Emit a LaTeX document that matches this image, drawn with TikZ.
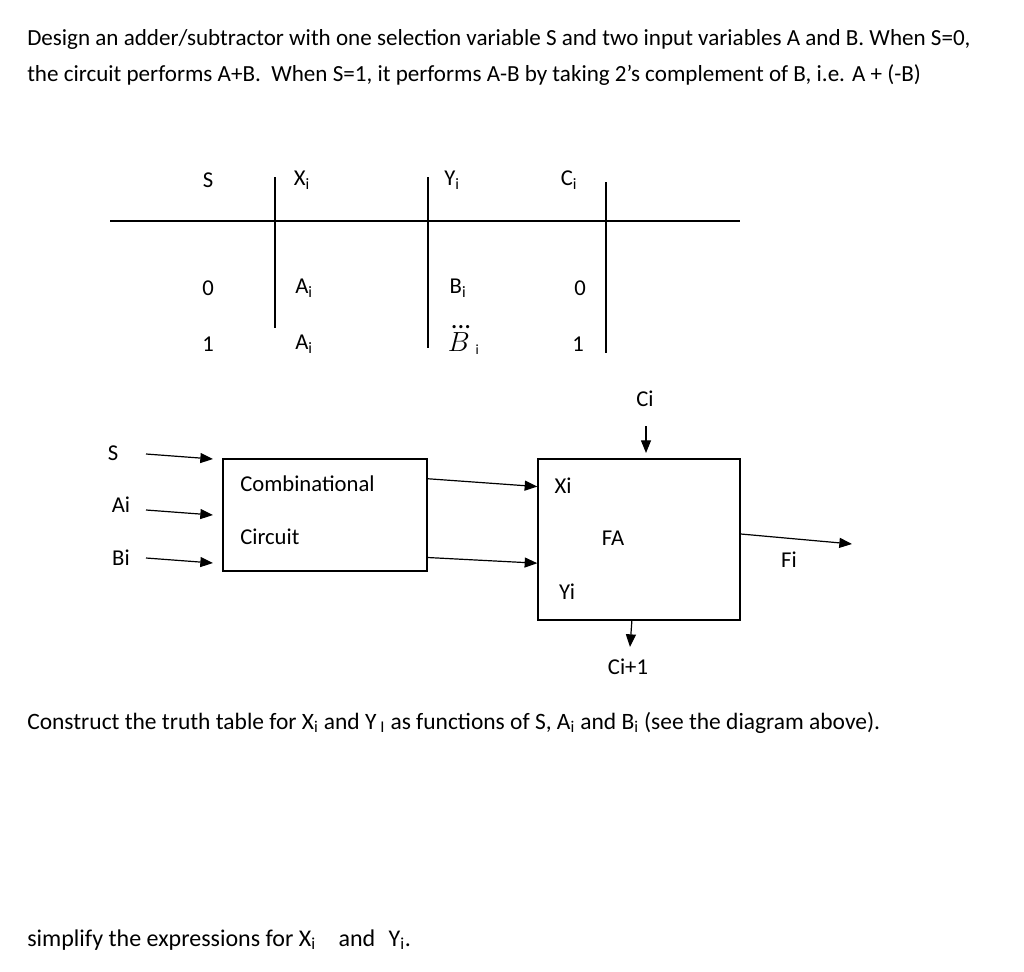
\documentclass[tikz,border=0pt]{standalone}
\usepackage{amsmath}
\usepackage{fontspec}
\setmainfont{Carlito}
\usetikzlibrary{arrows.meta,calc}
\newcommand{\sbi}[1]{\textsubscript{#1}}
\begin{document}
\begin{tikzpicture}[x=0.75pt,y=-0.75pt,
  lbl/.style={font=\fontsize{17}{20}\selectfont, inner sep=0pt},
  txt/.style={font=\fontsize{17.3}{20}\selectfont, inner sep=0pt, anchor=base west},
  btxt/.style={font=\fontsize{17.6}{20}\selectfont, inner sep=0pt, anchor=base west},
  arr/.style={-{Triangle[length=9.5pt,width=7.5pt]}, line width=0.9pt},
  ln/.style={line width=0.9pt},
  box/.style={draw, line width=1pt, inner sep=0pt}]
\useasboundingbox (0,0) rectangle (1024,971);
% title
\node[txt] (t1) at (27,45) {Design an adder/subtractor with one selection variable S and two input variables A and B. When S=0,};
\node[txt] (t2) at (27,81) {the circuit performs A+B.\ \ When S=1, it performs A-B by taking 2’s complement of B, i.e. A + (-B)};
% table
\node[lbl] (hS) at (208,180) {S};
\node[lbl] (hX) at (302,180) {X\sbi{i}};
\node[lbl] (hY) at (452,180) {Y\sbi{i}};
\node[lbl] (hC) at (569,180) {C\sbi{i}};
\node[lbl] (r0s) at (208,288) {0};
\node[lbl] (r0x) at (304,288) {A\sbi{i}};
\node[lbl] (r0y) at (458,288) {B\sbi{i}};
\node[lbl] (r0c) at (580,288) {0};
\node[lbl] (r1s) at (208,344) {1};
\node[lbl] (r1x) at (304,344) {A\sbi{i}};
\node[lbl, anchor=base] (r1y) at (463,351) {\fontsize{20}{22}\selectfont$\dddot{B}$\,\fontsize{15}{18}\selectfont\sbi{i}};
\node[lbl] (r1c) at (578,344) {1};
\coordinate (hl) at (110,221);
\coordinate (hr) at (740,221);
\draw[ln] (hl) -- (hr);
\coordinate (v1t) at (275,177); \coordinate (v1b) at (275,328);
\coordinate (v2t) at (428,177); \coordinate (v2b) at (428,348);
\coordinate (v3t) at (606,182); \coordinate (v3b) at (606,353);
\draw[ln] (v1t) -- (v1b);
\draw[ln] (v2t) -- (v2b);
\draw[ln] (v3t) -- (v3b);
% block diagram
\node[box, minimum width=153pt, minimum height=84pt] (cc) at (325,515) {};
\node[lbl, anchor=west] (ct1) at (240,484) {Combinational};
\node[lbl, anchor=west] (ct2) at (240,537) {Circuit};
\node[box, minimum width=151.5pt, minimum height=120.75pt] (fa) at (639,539.5) {};
\node[lbl] (fal) at (613,538) {FA};
\node[lbl] (xil) at (563,486) {Xi};
\node[lbl] (yil) at (567,592) {Yi};
\node[lbl] (sl) at (113,453) {S};
\node[lbl] (al) at (121,505) {Ai};
\node[lbl] (bl) at (121,558) {Bi};
\coordinate (s0) at (146,454); \coordinate (s1) at (213,459);
\coordinate (a0) at (146,510); \coordinate (a1) at (213,515);
\coordinate (b0) at (146,558); \coordinate (b1) at (213,563);
\draw[arr] (s0) -- (s1);
\draw[arr] (a0) -- (a1);
\draw[arr] (b0) -- (b1);
\draw[arr] ($(cc.north east)!0.18!(cc.south east)$) -- ($(fa.north west)!0.174!(fa.south west)$);
\draw[arr] ($(cc.north east)!0.875!(cc.south east)$) -- ($(fa.north west)!0.646!(fa.south west)$);
\node[lbl] (cil) at (645,399) {Ci};
\coordinate (ci0) at (646,426); \coordinate (ci1) at (646,453);
\draw[arr] (ci0) -- (ci1);
\coordinate (co1) at (630,647);
\draw[arr] ($(fa.south west)!0.465!(fa.south east)$) -- (co1);
\node[lbl] (col) at (628,667) {Ci+1};
\coordinate (fo) at (852,544);
\draw[arr] ($(fa.north east)!0.466!(fa.south east)$) -- (fo);
\node[lbl] (fil) at (789,560) {Fi};
% bottom text
\node[btxt] (t3) at (27,729) {Construct the truth table for X\sbi{i} and Y\,\sbi{I} as functions of S, A\sbi{i} and B\sbi{i} (see the diagram above).};
\node[btxt, font=\fontsize{18}{20}\selectfont] (t4) at (27,946) {simplify the expressions for X\sbi{i}\hspace{17pt}and\hspace{10pt}Y\sbi{i}.};
\end{tikzpicture}
\end{document}
